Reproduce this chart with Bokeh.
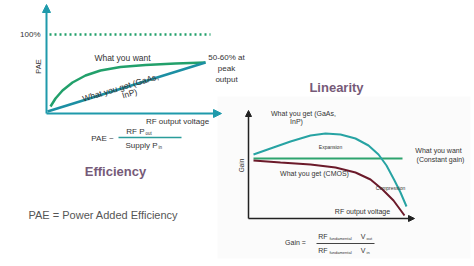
from math import pi
from bokeh.plotting import figure
from bokeh.models import Range1d, Arrow, NormalHead
from bokeh.core.properties import value
from bokeh.embed import file_html
from bokeh.resources import INLINE

# ---- data (diagram coordinates: x to the right, y downward) ----
# Efficiency panel
want_x = [50, 55, 62, 72, 85, 100, 120, 145, 175, 205]
want_y = [106, 98, 90, 82, 75, 70, 66.5, 64.5, 63, 62]
get_x = [47, 205]
get_y = [111, 62]
full_x = [49, 210]
full_y = [34, 34]

# Linearity panel
gaas_x = [253, 270, 290, 310, 325, 340, 355, 368, 378, 386, 394, 400, 406]
gaas_y = [154, 148, 141, 135, 133, 134, 138, 145, 154, 165, 180, 192, 206]
const_x = [253, 402]
const_y = [158, 158]
cmos_x = [253, 280, 310, 335, 355, 370, 382, 393, 404]
cmos_y = [160, 162, 164, 167, 172, 179, 189, 200, 215]

FONT = value("Liberation Sans")
TEAL = "#1f9aab"
GREEN = "#22a06b"
BLUE = "#1c8fa3"
PURPLE = "#765a78"

p = figure(width=474, height=266, output_backend="svg", toolbar_location=None,
           x_range=Range1d(0, 474), y_range=Range1d(266, 0),
           min_border=0, outline_line_color=None, background_fill_color="#ffffff",
           border_fill_color="#ffffff")
p.axis.visible = False
p.grid.visible = False

# very light panel behind linearity chart
p.quad(left=[217], right=[470], top=[96], bottom=[258], fill_color="#fbfbfb", line_color=None)

def txt(x, y, s, size, color="#333333", align="center", angle=0.0, bold=False):
    p.text(x=[x], y=[y], text=[s], text_font=FONT, text_font_size=f"{size}px",
           text_color=color, text_align=align, text_baseline="middle", angle=angle,
           text_font_style="bold" if bold else "normal")

# ---- Efficiency panel ----
p.line(full_x, full_y, line_color=GREEN, line_width=2.5, line_dash="2 3")
p.line(want_x, want_y, line_color=GREEN, line_width=2.5)
p.line(get_x, get_y, line_color=BLUE, line_width=2.5)
p.add_layout(Arrow(end=NormalHead(size=8, fill_color=TEAL, line_color=TEAL),
                   x_start=46, y_start=113, x_end=46, y_end=4, line_color=TEAL, line_width=2))
p.add_layout(Arrow(end=NormalHead(size=8, fill_color=TEAL, line_color=TEAL),
                   x_start=46, y_start=113, x_end=221, y_end=113, line_color=TEAL, line_width=2))

txt(40, 34, "100%", 8, align="right")
txt(38, 66, "PAE", 7.5, angle=pi / 2)
txt(122, 57, "What you want", 8.5)
txt(120, 87, "What you get (GaAs,", 8.5, angle=0.29)
txt(129, 93, "InP)", 8.5, angle=0.29)
txt(226, 57, "50-60% at", 8)
txt(226, 68, "peak", 8)
txt(226, 79, "output", 8)
txt(177, 121, "RF output voltage", 8)

txt(102, 138, "PAE ~", 8)
p.line([118, 181], [137, 137], line_color="#2a9d9a", line_width=1.5)
txt(144, 131, "RF P", 8, align="right")
txt(145, 133, "out", 4.5, align="left")
txt(157, 145, "Supply P", 8, align="right")
txt(158, 147, "in", 4.5, align="left")

txt(115, 171, "Efficiency", 13, color=PURPLE, bold=True)
txt(28, 214, "PAE = Power Added Efficiency", 11, color="#555555", align="left")

# ---- Linearity panel ----
txt(336, 87, "Linearity", 13, color=PURPLE, bold=True)
p.add_layout(Arrow(end=NormalHead(size=6, fill_color="#222222", line_color="#222222"),
                   x_start=248, y_start=218, x_end=248, y_end=110, line_color="#222222", line_width=1.5))
p.add_layout(Arrow(end=NormalHead(size=6, fill_color="#222222", line_color="#222222"),
                   x_start=248, y_start=218, x_end=414, y_end=218, line_color="#222222", line_width=1.5))

p.line(const_x, const_y, line_color="#2ea36e", line_width=2)
p.line(gaas_x, gaas_y, line_color="#27a3a3", line_width=2)
p.line(cmos_x, cmos_y, line_color="#6b1a2a", line_width=2)

txt(241, 165, "Gain", 6.5, angle=pi / 2)
txt(303, 113, "What you get (GaAs,", 7)
txt(296, 121, "InP)", 7)
txt(330, 146, "Expansion", 5)
txt(438, 150, "What you want", 7)
txt(440, 159, "(Constant gain)", 7)
txt(314, 173, "What you get (CMOS)", 7)
txt(390, 187, "Compression", 5)
txt(362, 211, "RF output voltage", 7)

txt(295, 242, "Gain =", 7)
p.line([316, 374], [243, 243], line_color="#444444", line_width=1)
txt(327, 236, "RF", 7, align="right")
txt(329, 238, "fundamental", 4, align="left")
txt(365, 236, "V", 7, align="right")
txt(366, 238, "out", 4, align="left")
txt(327, 250, "RF", 7, align="right")
txt(329, 252, "fundamental", 4, align="left")
txt(365, 250, "V", 7, align="right")
txt(366, 252, "in", 4, align="left")

open("out.html", "w").write(file_html(p, INLINE))
